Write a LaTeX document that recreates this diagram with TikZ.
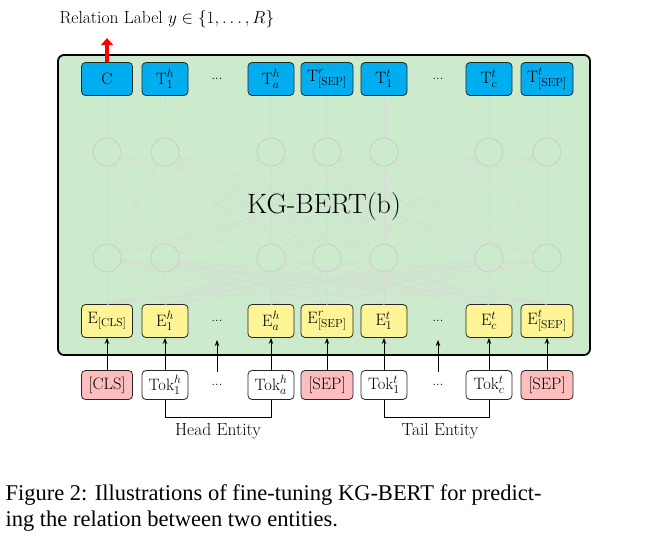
\documentclass[tikz,border=0pt]{standalone}
\usepackage{fontspec}
\newfontfamily\capfont{Liberation Serif}
\usetikzlibrary{arrows.meta}
\definecolor{tcol}{RGB}{0,174,239}
\definecolor{ecol}{RGB}{255,245,150}
\definecolor{kcol}{RGB}{255,190,190}
\definecolor{gcol}{RGB}{204,234,204}
\begin{document}
\begin{tikzpicture}[x=1pt,y=-1pt,
  box/.style={draw=black!85,line width=0.8pt,rounded corners=4pt,minimum height=33,inner sep=1pt,font=\fontsize{16.5}{18}\selectfont},
  tbox/.style={box,fill=tcol},
  ebox/.style={box,fill=ecol},
  kbox/.style={box,minimum height=29},
  neur/.style={circle,draw=black!25,minimum size=28,inner sep=0},
  faint/.style={draw=black!15,-{Stealth[length=3pt]},line width=0.4pt},
  up/.style={-{Stealth[length=6pt]},line width=1pt}]
\useasboundingbox (0,0) rectangle (646,541);
\node[draw=black,line width=1.8pt,fill=gcol,rounded corners=6pt,minimum width=532,minimum height=300] (bert) at (324,205) {};
\def\cols{1/107/51,2/165/46,3/271/46,4/327/52,5/384/46,6/489/46,7/547/52}
\foreach \i/\x/\w in \cols {
  \node[neur] (u\i) at (\x,152) {};
  \node[neur] (l\i) at (\x,258) {};
}
\foreach \i/\x/\w in \cols { \foreach \j/\y/\v in \cols {
  \draw[faint] (l\i) -- (u\j);
}}
\node[tbox,minimum width=51] (t1) at (107,79) {C};
\node[tbox,minimum width=46] (t2) at (165,79) {T$^h_1$};
\node[tbox,minimum width=46] (t3) at (271,79) {T$^h_a$};
\node[tbox,minimum width=52] (t4) at (327,79) {T$^r_{\mathrm{[SEP]}}$};
\node[tbox,minimum width=46] (t5) at (384,79) {T$^t_1$};
\node[tbox,minimum width=46] (t6) at (489,79) {T$^t_c$};
\node[tbox,minimum width=52] (t7) at (547,79) {T$^t_{\mathrm{[SEP]}}$};
\node[ebox,minimum width=51] (e1) at (107,321) {E$_{\mathrm{[CLS]}}$};
\node[ebox,minimum width=46] (e2) at (165,321) {E$^h_1$};
\node[ebox,minimum width=46] (e3) at (271,321) {E$^h_a$};
\node[ebox,minimum width=52] (e4) at (327,321) {E$^r_{\mathrm{[SEP]}}$};
\node[ebox,minimum width=46] (e5) at (384,321) {E$^t_1$};
\node[ebox,minimum width=46] (e6) at (489,321) {E$^t_c$};
\node[ebox,minimum width=52] (e7) at (547,321) {E$^t_{\mathrm{[SEP]}}$};
\foreach \i/\x/\w in \cols {
  \draw[faint] (u\i) -- (t\i);
  \foreach \j/\y/\v in \cols { \draw[faint] (e\i.north) -- (l\j); }
}
\node[kbox,fill=kcol,minimum width=51] (k1) at (107,385) {[CLS]};
\node[kbox,fill=white,minimum width=46] (k2) at (165,385) {Tok$^h_1$};
\node[kbox,fill=white,minimum width=46] (k3) at (271,385) {Tok$^h_a$};
\node[kbox,fill=kcol,minimum width=52] (k4) at (327,385) {[SEP]};
\node[kbox,fill=white,minimum width=46] (k5) at (384,385) {Tok$^t_1$};
\node[kbox,fill=white,minimum width=46] (k6) at (489,385) {Tok$^t_c$};
\node[kbox,fill=kcol,minimum width=52] (k7) at (547,385) {[SEP]};
\foreach \i in {1,...,7} \draw[up] (k\i) -- (e\i);
\foreach \x in {217,438} {
  \node[font=\fontsize{13}{15}\selectfont] (dt\x) at (\x,79) {...};
  \node[font=\fontsize{13}{15}\selectfont] (de\x) at (\x,321) {...};
  \node[font=\fontsize{13}{15}\selectfont] (dk\x) at (\x,385) {...};
  \coordinate (a\x) at (\x,372);
  \coordinate (b\x) at (\x,340);
  \draw[up] (a\x) -- (b\x);
}
\node[font=\fontsize{28}{30}\selectfont] (title) at (324,207) {KG-BERT(b)};
\draw[red,line width=3.5pt,-{Triangle[length=7pt,width=12pt]}] (t1.north) -- ++(0,-24) coordinate (rl);
\node[anchor=west,font=\fontsize{17.5}{20}\selectfont] (lab) at (56,19) {Relation Label $y\in\{1,\ldots,R\}$};
\draw[line width=0.8pt] (k2.south) -- ++(0,17) -| (k3.south);
\draw[line width=0.8pt] (k5.south) -- ++(0,17) -| (k6.south);
\node[font=\fontsize{17.5}{20}\selectfont] (he) at (218,431) {Head Entity};
\node[font=\fontsize{17.5}{20}\selectfont] (te) at (440,431) {Tail Entity};
\node[anchor=west,align=left,font=\capfont\fontsize{22.5}{26}\selectfont] (cap) at (2,508) {Figure 2: Illustrations of fine-tuning KG-BERT for predict-\\ing the relation between two entities.};
\end{tikzpicture}
\end{document}
